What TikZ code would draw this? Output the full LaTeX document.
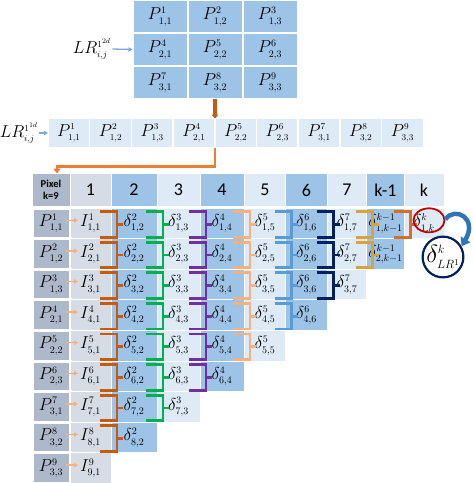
\documentclass[tikz,border=0pt]{standalone}
\usepackage{amsmath}
\usepackage[no-math]{fontspec}
\newfontfamily\hdrfont{Carlito}
\usetikzlibrary{arrows.meta,calc,shapes.geometric}

% smaller indices, as in the original figure
\DeclareMathSizes{17}{17}{10}{7}
\DeclareMathSizes{16}{16}{9.5}{7}
\DeclareMathSizes{24}{24}{12}{9}

\definecolor{topblue}{HTML}{9DC3E6}
\definecolor{midblue}{HTML}{9DC3E6}
\definecolor{paleblue}{HTML}{DEEBF7}
\definecolor{igray}{HTML}{D6DCE5}
\definecolor{pgray}{HTML}{ADB9CA}
\definecolor{brOne}{HTML}{C55A11}
\definecolor{brTwo}{HTML}{00B050}
\definecolor{brThree}{HTML}{7030A0}
\definecolor{brFour}{HTML}{F4B183}
\definecolor{brFive}{HTML}{5B9BD5}
\definecolor{brSix}{HTML}{002060}
\definecolor{brSeven}{HTML}{D6A243}
\definecolor{brEight}{HTML}{D2702A}
\definecolor{feedorange}{HTML}{ED7D31}
\definecolor{ringred}{HTML}{C00000}
\definecolor{turnblue}{HTML}{2E75B6}
\definecolor{lrblue}{HTML}{7FA8D8}

\newcommand{\cellfont}{\fontsize{17}{20}\selectfont}

\tikzset{
  cell/.style={rectangle, draw=white, line width=1pt, minimum height=30.6pt, inner sep=0pt, outer sep=0pt, font=\cellfont},
  pcell/.style={cell, fill=pgray, line width=3pt, minimum width=38pt},
  gcell/.style={cell, fill=topblue, line width=2pt, minimum width=55pt, minimum height=33pt},
  dcell/.style={cell, fill=paleblue, line width=1.5pt, minimum width=41.7pt, minimum height=29pt, font=\fontsize{16}{19}\selectfont},
  hdr/.style={cell, minimum height=33pt, font=\hdrfont\fontsize{18}{20}\selectfont},
  brline/.style={line width=2.8pt},
  feedline/.style={draw=feedorange, line width=2.5pt, -{Triangle[length=5pt,width=7pt]}},
  droparrow/.style={draw=brOne, line width=3.5pt, -{Triangle[length=4pt,width=7pt]}},
  lrarrow/.style={draw=lrblue, line width=1.3pt, -{Triangle[length=4pt,width=4.5pt]}},
  piarrow/.style={draw=brFour, line width=1.3pt, -{Triangle[length=4pt,width=4.5pt]}},
  turnarrow/.style={draw=turnblue, line width=4.5pt, -{Triangle[length=8pt,width=11pt]}}
}

\begin{document}
\begin{tikzpicture}[x=1pt, y=-1pt]
    \useasboundingbox (0,0) rectangle (474,483);

    % Draw the 2d grid of the low resolution pixel
    \foreach \r in {1,2,3}
      \foreach \s in {1,2,3} {
        \pgfmathtruncatemacro\n{3*(\r-1)+\s}
        \node[gcell] (g\r\s) at ({160+55*(\s-1)}, {16.5+33*(\r-1)}) {$P^{\n}_{\r,\s}$};
      }
    \node[font=\fontsize{16}{19}\selectfont, inner sep=1pt] (lr2d) at (92,49) {$LR^{1^{2d}}_{i,j}$};
    \draw[lrarrow] (lr2d.east) -- (g21.west);

    % Draw the same pixels as a 1d row
    \foreach \n/\r/\s in {1/1/1,2/1/2,3/1/3,4/2/1,5/2/2,6/2/3,7/3/1,8/3/2,9/3/3}
      \node[dcell] (d\n) at ({68.85+41.7*(\n-1)}, 133) {$P^{\n}_{\r,\s}$};
    \node[font=\fontsize{16}{19}\selectfont, inner sep=1pt] (lr1d) at (19,133) {$LR^{1^{1d}}_{i,j}$};
    \draw[lrarrow] (lr1d.east) -- (d1.west);

    % Draw the header row
    \node[hdr, fill=pgray, minimum width=38pt, align=center, font=\hdrfont\bfseries\fontsize{10.5}{12}\selectfont] (pix) at (51,190) {Pixel\\k=9};
    \foreach \cx/\x/\w/\f/\lab in {1/90.5/41/igray/1, 2/134/46/midblue/2, 3/178.5/43/paleblue/3, 4/222/44/midblue/4, 5/265/41/paleblue/5, 6/306.5/42/midblue/6, 7/347/39/paleblue/7, 8/385.5/38/midblue/k-1, 9/424/40/paleblue/k}
      \node[hdr, fill=\f, minimum width=\w pt] (h\cx) at (\x,190) {\lab};

    % Draw the pixel column and the first column
    \foreach \i/\r/\s in {1/1/1,2/1/2,3/1/3,4/2/1,5/2/2,6/2/3,7/3/1,8/3/2,9/3/3} {
      \node[pcell] (c0-\i) at (51, {223.3+30.6*(\i-1)}) {$P^{\i}_{\r,\s}$};
      \node[cell, fill=igray, minimum width=41pt] (c1-\i) at (90.5, {223.3+30.6*(\i-1)}) {$I^{\i}_{\i,1}$};
    }

    % Draw the delta columns, one row less each time
    \foreach \cx/\x/\w/\f/\s in {2/134/46/midblue/2, 3/178.5/43/paleblue/3, 4/222/44/midblue/4, 5/265/41/paleblue/5, 6/306.5/42/midblue/6, 7/347/39/paleblue/7, 8/385.5/38/midblue/k-1, 9/424/40/paleblue/k} {
      \pgfmathtruncatemacro\n{10-\cx}
      \foreach \i in {1,...,\n}
        \node[cell, fill=\f, minimum width=\w pt] (c\cx-\i) at (\x, {223.3+30.6*(\i-1)}) {$\delta^{\s}_{\i,\s}$};
    }

    % Draw the lines between the rows
    \draw[droparrow] (g32.south) -- (g32.south |- d5.north);
    \coordinate (split) at (g32.south |- d5.south);
    \draw[feedline] (split) -- ++(0,19) -| ($(pix.north)+(6,0)$);
    \foreach \i in {1,...,9}
      \draw[piarrow] ($(c0-\i.east)+(-4,-3)$) -- ($(c1-\i.west)+(8,-3)$);

    % Draw the brackets joining two cells of a column
    \foreach \cx/\n/\clr in {1/8/brOne, 2/7/brTwo, 3/6/brThree, 4/5/brFour, 5/4/brFive, 6/3/brSix, 7/2/brSeven, 8/1/brEight}
      \foreach \i in {1,...,\n} {
        \pgfmathtruncatemacro\j{\i+1}
        \draw[brline, draw=\clr] ($(c\cx-\i.north east)+(-11,3.5)$) -- ++(17,0) |- ($(c\cx-\j.north east)+(-11,-1.5)$);
        \draw[brline, draw=\clr] ($(c\cx-\i.east)+(6,1)$) -- ++(6,0);
      }

    % Draw the last delta and its result
    \node[ellipse, draw=ringred, line width=1.8pt, minimum width=31pt, minimum height=24pt, inner sep=0pt] (ring) at ($(c9-1)+(5,-3)$) {};
    \node[circle, draw=brSix, line width=2.2pt, minimum size=40pt, inner sep=0pt, font=\fontsize{24}{26}\selectfont] (total) at (443,257) {$\delta^{k}_{LR^1}$};
    \draw[turnarrow] ($(ring.east)+(0,-1)$) .. controls (455,206) and (478,218) .. (total.30);
\end{tikzpicture}
\end{document}
